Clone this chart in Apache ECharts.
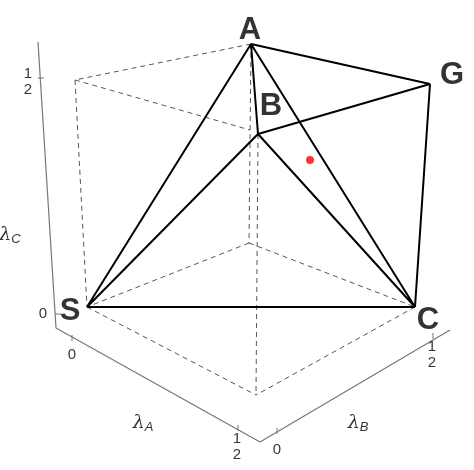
<!DOCTYPE html>
<html><head><meta charset="utf-8">
<script src="https://cdn.jsdelivr.net/npm/echarts@6/dist/echarts.min.js"></script>
<style>html,body{margin:0;padding:0;background:#fff}#c{width:474px;height:470px}</style>
</head><body><div id="c"></div>
<script>
// vertex positions (projected plane units)
const vertexNames = ['A','B','G','S','C'];
const vertexPos = {A:[251,44],B:[258,134],G:[430,84],S:[87,307],C:[415,307]};
const solidEdges = [['A','S'],['A','B'],['A','C'],['A','G'],['B','S'],['B','C'],['B','G'],['G','C'],['S','C']];
// hidden cube edges
const cubePts = {P1:[75,80],P2:[250,130],P3:[249,243],P4:[256,395]};
const dashedEdges = [['A','P1'],['P1','P2'],['P1','S'],['A','P3'],['P3','S'],['P3','C'],['B','P4'],['S','P4'],['C','P4']];
const innerPoint = [[310,160]];
// axes (frame)
const axisPath = [[38,42],[56,328],[260,442],[450,330]];
const tickSegs = [[[38,78],[44,78]],[[55,314],[61,314]],[[72,335],[72,341]],[[238,425],[238,431]],[[277,428],[277,434]],[[433,333],[433,339]]];
const tickLabels = [['1\n2',[28,82]],['0',[43,314]],['0',[72,355]],['1\n2',[237,447]],['0',[277,450]],['1\n2',[432,355]]];
const axisTitles = [['λ',[10,235],'C'],['λ',[143,423],'A'],['λ',[358,423],'B']];
const labelPos = {A:[250,30],B:[271,106],G:[452,75],S:[70,311],C:[428,320]};

const all = Object.assign({}, vertexPos, cubePts);
function segData(edges){const d=[];edges.forEach(e=>{d.push(all[e[0]],all[e[1]],'-');});return d;}
const tickData=[];tickSegs.forEach(s=>{tickData.push(s[0],s[1],'-');});

const series = [
 {type:'line',data:segData(dashedEdges),symbol:'none',connectNulls:false,lineStyle:{color:'#555',width:1,type:[5,4]},z:1},
 {type:'line',data:axisPath,symbol:'none',lineStyle:{color:'#777',width:1.2},z:1},
 {type:'line',data:tickData,symbol:'none',connectNulls:false,lineStyle:{color:'#777',width:1},z:1},
 {type:'line',data:segData(solidEdges),symbol:'none',connectNulls:false,lineStyle:{color:'#000',width:2},z:2},
 {type:'scatter',data:innerPoint,symbolSize:8,itemStyle:{color:'#ff0000'},z:3},
 {type:'scatter',data:vertexNames.map(n=>({value:labelPos[n],name:n})),symbolSize:0,z:4,
  label:{show:true,position:'inside',formatter:p=>p.name,fontFamily:'Liberation Sans',fontWeight:'bold',fontSize:31,color:'#000'}},
 {type:'scatter',data:tickLabels.map(t=>({value:t[1],name:t[0]})),symbolSize:0,z:4,
  label:{show:true,position:'inside',formatter:p=>p.name,fontFamily:'Liberation Sans',fontSize:15,lineHeight:16,color:'#000'}},
 {type:'scatter',data:axisTitles.map(t=>({value:t[1],name:t[0],sub:t[2]})),symbolSize:0,z:4,
  label:{show:true,position:'inside',formatter:p=>'{l|'+p.name+'}{s|'+axisTitles[p.dataIndex][2]+'}',
   rich:{l:{fontFamily:'DejaVu Serif',fontStyle:'italic',fontSize:19,color:'#000'},s:{fontFamily:'Liberation Sans',fontStyle:'italic',fontSize:13,color:'#000',padding:[8,0,0,0]}}}}
];
const chart = echarts.init(document.getElementById('c'));
chart.setOption({animation:false,
 grid:{left:0,right:0,top:0,bottom:0},
 xAxis:{type:'value',min:0,max:474,show:false},
 yAxis:{type:'value',min:0,max:470,inverse:true,show:false},
 series});
</script></body></html>
